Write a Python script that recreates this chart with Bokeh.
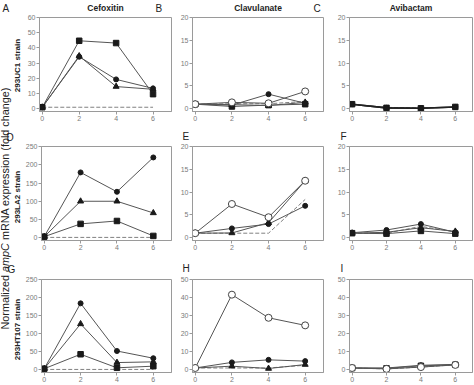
import math
from bokeh.plotting import figure
from bokeh.layouts import row, column
from bokeh.models import Range1d, Label
from bokeh.embed import file_html
from bokeh.resources import INLINE

# ---------------- data ----------------
hours = [0, 2, 4, 6]
x_ticks = [0, 2, 4, 6]

drugs = ["Cefoxitin", "Clavulanate", "Avibactam"]
strains = ["293UC1 strain", "293LA2 strain", "293HT107 strain"]
panel_letters = ["A", "B", "C", "D", "E", "F", "G", "H", "I"]
y_max = [60, 20, 20, 250, 20, 20, 250, 50, 50]

ticks_60 = [0, 10, 20, 30, 40, 50, 60]
ticks_20 = [0, 5, 10, 15, 20]
ticks_250 = [0, 50, 100, 150, 200, 250]
ticks_50 = [0, 10, 20, 30, 40, 50]

a_square = [1, 44.7, 43.2, 9.6]
a_circle = [1, 34.2, 19.3, 13.4]
a_triangle = [1, 34.7, 14.6, 12.8]
a_dashed = [1, 1, 1, 1]

b_open = [1, 1.4, 1.2, 3.8]
b_circle = [1, 0.8, 3.2, 1.2]
b_triangle = [1, 0.9, 0.7, 1.4]
b_square = [1, 0.5, 0.8, 1.0]
b_dashed = [1, 1.1, 1.1, 1.6]

c_circle = [1, 0.2, 0.1, 0.4]
c_square = [1, 0.2, 0.1, 0.4]
c_dashed = [0.9, 0.3, 0.2, 0.3]

d_circle = [3, 179, 126, 220]
d_triangle = [3, 100, 100, 68]
d_square = [3, 38, 46, 5]
d_dashed = [1, 1, 1, 1]

e_open = [1, 7.4, 4.5, 12.5]
e_triangle = [1, 1.05, 3.3, 12.5]
e_circle = [1, 2.05, 3.0, 7.0]
e_dashed = [1, 1, 1, 8.4]

f_circle = [1.1, 1.7, 3.0, 1.2]
f_triangle = [1, 1.2, 2.2, 1.4]
f_square = [1, 0.9, 1.5, 0.9]
f_dashed = [1, 1, 2.5, 1.3]

g_circle = [3, 184, 52, 32]
g_triangle = [3, 127, 20, 22]
g_square = [3, 43, 5.5, 10]
g_dashed = [1, 1, 1, 1]

h_open = [1, 41.6, 28.8, 24.6]
h_circle = [1, 4.1, 5.5, 4.8]
h_triangle = [1, 2.0, 0.7, 2.9]
h_dashed = [1, 1, 1, 2.5]

i_open = [1, 0.5, 1.5, 2.7]
i_circle = [1, 1.0, 2.5, 3.0]
i_square = [1, 0.8, 2.2, 2.8]
i_dashed = [1, 0.5, 1.5, 2.8]

panels = [
    {"dashed": a_dashed, "square": a_square, "circle": a_circle, "triangle": a_triangle},
    {"dashed": b_dashed, "square": b_square, "triangle": b_triangle, "circle": b_circle, "open": b_open},
    {"dashed": c_dashed, "square": c_square, "circle": c_circle},
    {"dashed": d_dashed, "square": d_square, "triangle": d_triangle, "circle": d_circle},
    {"dashed": e_dashed, "circle": e_circle, "triangle": e_triangle, "open": e_open},
    {"dashed": f_dashed, "square": f_square, "triangle": f_triangle, "circle": f_circle},
    {"dashed": g_dashed, "square": g_square, "triangle": g_triangle, "circle": g_circle},
    {"dashed": h_dashed, "triangle": h_triangle, "circle": h_circle, "open": h_open},
    {"dashed": i_dashed, "square": i_square, "circle": i_circle, "open": i_open},
]
y_ticks = [ticks_60, ticks_20, ticks_20, ticks_250, ticks_20, ticks_20, ticks_250, ticks_50, ticks_50]

# ---------------- layout constants ----------------
FONT = "Liberation Sans"
GRAY = "#9a9a9a"
INK = "#222222"
GUTTER_W = 22
col_w = [152, 151, 148]
col_left = [17, 18, 24]
col_right = [3, 2, 1]
row_top = [4, 4, 5]
row_bottom = [13, 14, 11]
FRAME_H = 94
header_h = [13, 18, 20]
HEADER_W = sum(col_w)


def text_strip(width, height):
    f = figure(width=width, height=height, output_backend="svg", toolbar_location=None,
               x_range=Range1d(0, width), y_range=Range1d(0, height),
               min_border=0, min_border_left=0, min_border_right=0,
               min_border_top=0, min_border_bottom=0)
    f.xaxis.visible = False
    f.yaxis.visible = False
    f.xgrid.grid_line_color = None
    f.ygrid.grid_line_color = None
    f.outline_line_color = None
    return f


def put(f, x, y, txt, size, style="normal", align="left", angle=0.0):
    f.add_layout(Label(x=x, y=y, x_units="screen", y_units="screen", text=txt,
                       angle=angle, text_align=align, text_baseline="middle",
                       text_font=FONT, text_font_size=size, text_font_style=style,
                       text_color=INK))


figs = []
for idx in range(9):
    r, c = divmod(idx, 3)
    ymax = y_max[idx]
    h = row_top[r] + FRAME_H + row_bottom[r]
    p = figure(width=col_w[c], height=h, output_backend="svg", toolbar_location=None,
               x_range=Range1d(-0.15, 7), y_range=Range1d(-0.03 * ymax, ymax),
               min_border_left=col_left[c], min_border_right=col_right[c],
               min_border_top=row_top[r], min_border_bottom=row_bottom[r])
    p.xgrid.grid_line_color = None
    p.ygrid.grid_line_color = None
    p.outline_line_color = GRAY
    p.outline_line_width = 1
    p.xaxis.ticker = x_ticks
    p.yaxis.ticker = y_ticks[idx]
    for ax in (p.xaxis[0], p.yaxis[0]):
        ax.axis_line_color = GRAY
        ax.major_tick_line_color = GRAY
        ax.major_tick_out = 3
        ax.major_tick_in = 0
        ax.minor_tick_line_color = None
        ax.major_label_text_font_size = "7px"
        ax.major_label_text_color = "#7a7a7a"
        ax.major_label_text_font = FONT
        ax.major_label_standoff = 1

    s = panels[idx]
    lw = 1.6 if idx == 2 else 1.0
    lc = INK if idx == 2 else "#555555"
    if "dashed" in s:
        p.line(hours, s["dashed"], line_color="#808080", line_dash="4 2", line_width=1)
    for key in ("square", "triangle", "circle", "open"):
        if key in s:
            p.line(hours, s[key], line_color=lc, line_width=lw)
    for key in ("square", "triangle", "circle", "open"):
        if key not in s:
            continue
        if key == "open":
            p.scatter(hours, s[key], marker="circle", size=7, fill_color="white",
                      line_color="#444444", line_width=1)
        elif key == "square":
            p.scatter(hours, s[key], marker="square", size=5.5, fill_color="#1a1a1a",
                      line_color="#1a1a1a")
        elif key == "triangle":
            p.scatter(hours, s[key], marker="triangle", size=6, fill_color="#1a1a1a",
                      line_color="#1a1a1a")
        else:
            p.scatter(hours, s[key], marker="circle", size=5, fill_color="#1a1a1a",
                      line_color="#1a1a1a")
    figs.append(p)

# ---------------- header strips (titles and panel letters) ----------------
headers = [text_strip(HEADER_W, hh) for hh in header_h]
frame_centers = [83, 235.5, 388.5]
for c in range(3):
    put(headers[0], frame_centers[c], 5.5, drugs[c], "8.5px", "bold", "center")
put(headers[0], 133, 5.5, panel_letters[1], "10px")
put(headers[0], 291, 5.5, panel_letters[2], "10px")
put(headers[1], 160, 6, panel_letters[4], "10px")
put(headers[1], 318, 6, panel_letters[5], "10px")
put(headers[2], 160, 6, panel_letters[7], "10px")
put(headers[2], 318, 6, panel_letters[8], "10px")

# ---------------- left gutter (shared labels) ----------------
G_H = sum(header_h) + sum(row_top) + 3 * FRAME_H + sum(row_bottom)
g = text_strip(GUTTER_W, G_H)
put(g, 2, G_H - 8, panel_letters[0], "10px")
put(g, 6, G_H - 136.5, panel_letters[3], "10px")
put(g, 7, G_H - 268.5, panel_letters[6], "10px")

for strain, yc in zip(strains, (65, 196.5, 329)):
    put(g, 17, G_H - yc, strain, "8px", "bold", "center", math.pi / 2)

FS = 10.8
y0 = G_H - 329
parts = [("Normalized", "normal", 0.0), ("ampC", "italic", 5.334 * FS),
         ("mRNA expression (fold change)", "normal", (5.334 + 2.945) * FS)]
for txt, style, off in parts:
    put(g, 4.5, y0 + off, txt, f"{FS}px", style, "left", math.pi / 2)

grid_col = column(headers[0], row(*figs[0:3]), headers[1], row(*figs[3:6]),
                  headers[2], row(*figs[6:9]))
layout = row(g, grid_col)

open("out.html", "w").write(file_html(layout, INLINE))
